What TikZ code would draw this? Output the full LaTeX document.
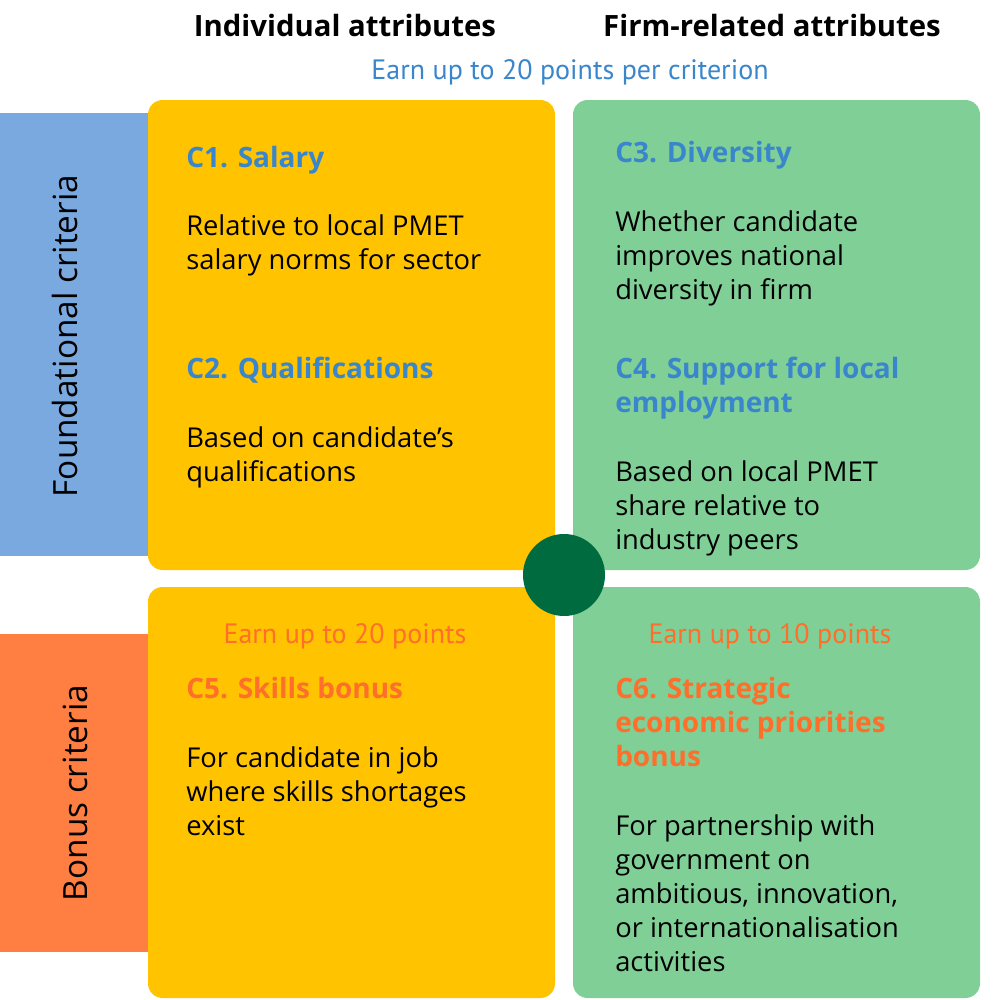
\documentclass[tikz,border=0pt]{standalone}
\usepackage{fontspec}
\setmainfont{Open Sans}
\newfontfamily\condfont{PT Sans}
\definecolor{yel}{HTML}{FFC300}
\definecolor{grn}{HTML}{80CF96}
\definecolor{blu}{HTML}{7AA9E0}
\definecolor{org}{HTML}{FF7F42}
\definecolor{dgr}{HTML}{006B3F}
\definecolor{hblue}{HTML}{3A86CC}
\definecolor{horg}{HTML}{FF6E2A}
\begin{document}
\begin{tikzpicture}[x=0.75pt,y=-0.75pt,
  box/.style={rounded corners=11pt,draw=none},
  body/.style={anchor=north west,align=left,inner sep=0,font=\fontsize{20.5}{25.5}\selectfont},
  hb/.style={anchor=north west,align=left,inner sep=0,text=hblue,font=\fontsize{21}{25.5}\selectfont\bfseries},
  ho/.style={hb,text=horg},
  top/.style={font=\fontsize{22}{26}\selectfont\bfseries},
  earn/.style={font=\condfont\fontsize{21}{25}\selectfont}]
\useasboundingbox (0,0) rectangle (1000,1000);
\fill[blu] (0,113) rectangle (148,556);
\fill[org] (0,634) rectangle (148,952);
\fill[box,yel] (148,100) rectangle (555,570);
\fill[box,grn] (573,100) rectangle (980,570);
\fill[box,yel] (148,587) rectangle (555,998);
\fill[box,grn] (573,587) rectangle (980,998);
\node[circle,fill=dgr,minimum size=61.5pt,inner sep=0] (hub) at (564,575) {};
\node[top] (ia) at (345,25) {Individual attributes};
\node[top] (fa) at (772,25) {Firm-related attributes};
\node[earn,text=hblue] (e1) at (570,72) {Earn up to 20 points per criterion};
\node[rotate=90,font=\fontsize{25}{28}\selectfont] (fc) at (65,336) {Foundational criteria};
\node[rotate=90,font=\fontsize{25}{28}\selectfont] (bc) at (75,793) {Bonus criteria};
\node[hb] (c1) at (186,146) {C1. Salary};
\node[body] (t1) at (186,214) {Relative to local PMET\\salary norms for sector};
\node[hb] (c2) at (186,357) {C2. Qualifications};
\node[body] (t2) at (186,426) {Based on candidate’s\\qualifications};
\node[hb] (c3) at (615,141) {C3. Diversity};
\node[body] (t3) at (615,210) {Whether candidate\\improves national\\diversity in firm};
\node[hb] (c4) at (615,357) {C4. Support for local\\employment};
\node[body] (t4) at (615,460) {Based on local PMET\\share relative to\\industry peers};
\node[earn,text=horg] (e2) at (345,636) {Earn up to 20 points};
\node[ho] (c5) at (186,677) {C5. Skills bonus};
\node[body] (t5) at (186,746) {For candidate in job\\where skills shortages\\exist};
\node[earn,text=horg] (e3) at (770,636) {Earn up to 10 points};
\node[ho] (c6) at (615,677) {C6. Strategic\\economic priorities\\bonus};
\node[body] (t6) at (615,814) {For partnership with\\government on\\ambitious, innovation,\\or internationalisation\\activities};
\end{tikzpicture}
\end{document}
